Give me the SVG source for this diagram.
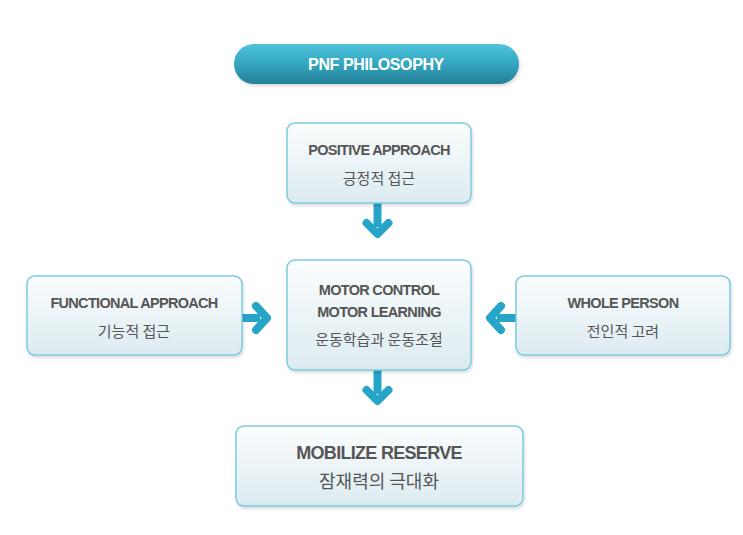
<svg xmlns="http://www.w3.org/2000/svg" width="743" height="535" viewBox="0 0 743 535">
<defs>
<linearGradient id="pill" x1="0" y1="0" x2="0" y2="1">
<stop offset="0" stop-color="#4fc3dc"/>
<stop offset="0.5" stop-color="#35a6c0"/>
<stop offset="1" stop-color="#237f96"/>
</linearGradient>
<linearGradient id="box" x1="0" y1="0" x2="0" y2="1">
<stop offset="0" stop-color="#fbfdfe"/>
<stop offset="1" stop-color="#dcebf0"/>
</linearGradient>
<filter id="sh" x="-10%" y="-10%" width="120%" height="130%">
<feDropShadow dx="1" dy="2" stdDeviation="1.5" flood-color="#000" flood-opacity="0.15"/>
</filter>
</defs>
<style>
.box{fill:url(#box);stroke:#7ccadf;stroke-width:1.5;filter:url(#sh)}
.t{font-family:"Liberation Sans","Noto Sans CJK KR",sans-serif;font-weight:bold;fill:#555;text-anchor:middle;font-size:14.5px;letter-spacing:-0.7px}
.k{font-family:"Noto Sans CJK KR",sans-serif;fill:#555;text-anchor:middle;font-size:15px}
.arr{fill:none;stroke:#27a5c8;stroke-width:8;stroke-linecap:round;stroke-linejoin:round}
.shaft{fill:#27a5c8}
</style>
<rect width="743" height="535" fill="#fff"/>
<g id="title">
<rect x="234" y="44" width="285" height="40" rx="20" fill="url(#pill)" filter="url(#sh)"/>
<text x="376" y="70" style="font-family:'Liberation Sans',sans-serif;font-weight:bold;font-size:16px;fill:#fff;text-anchor:middle;letter-spacing:-0.4px">PNF PHILOSOPHY</text>
</g>
<g id="connectors">
<rect class="shaft" x="373.5" y="203" width="8" height="24"/>
<path class="arr" d="M366.5 223 L377.5 234 L388.5 223"/>
<rect class="shaft" x="242" y="314" width="18" height="8"/>
<path class="arr" d="M256 306 L267 318 L256 330"/>
<rect class="shaft" x="497" y="314" width="19" height="8"/>
<path class="arr" d="M501 306 L490 318 L501 330"/>
<rect class="shaft" x="373.5" y="370" width="8" height="24"/>
<path class="arr" d="M366.5 390 L377.5 401 L388.5 390"/>
</g>
<g id="positive">
<rect class="box" x="287" y="123" width="184" height="80" rx="8"/>
<text class="t" x="379" y="155">POSITIVE APPROACH</text>
<text class="k" x="379" y="184">긍정적 접근</text>
</g>
<g id="functional">
<rect class="box" x="27" y="276" width="215" height="79" rx="8"/>
<text class="t" x="134" y="308">FUNCTIONAL APPROACH</text>
<text class="k" x="134" y="337">기능적 접근</text>
</g>
<g id="motor">
<rect class="box" x="287" y="260" width="184" height="110" rx="8"/>
<text class="t" x="379" y="295">MOTOR CONTROL</text>
<text class="t" x="379" y="317">MOTOR LEARNING</text>
<text class="k" x="379" y="345">운동학습과 운동조절</text>
</g>
<g id="whole">
<rect class="box" x="516" y="276" width="214" height="79" rx="8"/>
<text class="t" x="623" y="308">WHOLE PERSON</text>
<text class="k" x="623" y="337">전인적 고려</text>
</g>
<g id="mobilize">
<rect class="box" x="236" y="426" width="287" height="80" rx="8"/>
<text class="t" x="379" y="459" style="font-size:18px">MOBILIZE RESERVE</text>
<text class="k" x="379" y="488" style="font-size:18px">잠재력의 극대화</text>
</g>
</svg>
